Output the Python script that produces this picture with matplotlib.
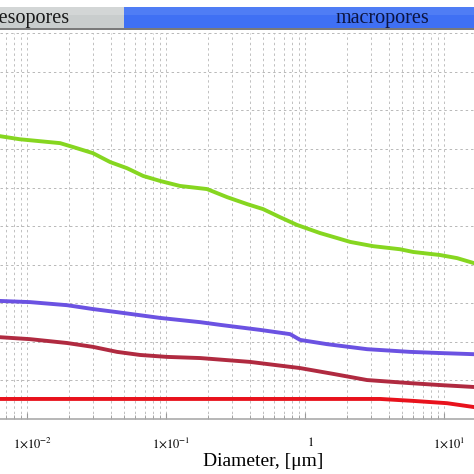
import numpy as np
import matplotlib
matplotlib.use("Agg")
import matplotlib.pyplot as plt
import matplotlib.transforms as mtransforms
from matplotlib.patches import Rectangle
from matplotlib.ticker import LogLocator, NullFormatter, FixedLocator

# data (diameter in um, y in axis units 0..10)
d_green = [0.0064, 0.0089, 0.0173, 0.0214, 0.0298, 0.0396, 0.0524, 0.0684, 0.0906, 0.126,
           0.197, 0.275, 0.383, 0.499, 0.661, 0.875, 1.28, 1.70, 2.11, 3.08, 4.82, 5.98,
           9.35, 12.4, 16.4]
y_green = [7.33, 7.25, 7.15, 7.05, 6.89, 6.66, 6.50, 6.30, 6.17, 6.04,
           5.96, 5.75, 5.57, 5.44, 5.23, 5.03, 4.82, 4.69, 4.59, 4.48, 4.40, 4.33,
           4.25, 4.17, 4.04]

d_blue = [0.0064, 0.0105, 0.0194, 0.0298, 0.0444, 0.065, 0.0906, 0.176, 0.245, 0.474,
          0.780, 0.921, 1.44, 2.79, 5.69, 9.35, 16.4]
y_blue = [3.06, 3.03, 2.95, 2.85, 2.77, 2.69, 2.62, 2.51, 2.44, 2.31,
          2.20, 2.05, 1.94, 1.81, 1.74, 1.71, 1.68]

d_dred = [0.0064, 0.0105, 0.0194, 0.0298, 0.0444, 0.065, 0.1016, 0.176, 0.402, 0.921,
          1.59, 2.79, 5.69, 9.35, 16.4]
y_dred = [2.12, 2.07, 1.97, 1.87, 1.74, 1.66, 1.61, 1.58, 1.48, 1.32,
          1.17, 1.01, 0.93, 0.88, 0.83]

d_red = [0.0064, 0.921, 3.47, 5.98, 10.5, 16.4]
y_red = [0.52, 0.52, 0.52, 0.47, 0.41, 0.31]

xticks = [1e-2, 1e-1, 1, 1e1]
xticklabels = [r'$1{\times}10^{-2}$', r'$1{\times}10^{-1}$', r'$1$', r'$1{\times}10^{1}$']

# pore classes: (name, start, end, text position)
bands = [("mesopores", 0.002, 0.05, 0.01),
         ("macropores", 0.05, 300, 3.6)]

plt.rcParams['mathtext.fontset'] = 'stix'
plt.rcParams['font.family'] = ['Liberation Serif', 'DejaVu Serif']

fig = plt.figure(figsize=(4.74, 4.74), dpi=100)
ax = fig.add_axes([0.0, 0.116, 1.0, 0.814])

lw = 2.8
ax.plot(d_green, y_green, color='#86d620', lw=lw, solid_joinstyle='round')
ax.plot(d_blue, y_blue, color='#6b52e2', lw=lw, solid_joinstyle='round')
ax.plot(d_dred, y_dred, color='#b02a40', lw=lw, solid_joinstyle='round')
ax.plot(d_red, y_red, color='#e8121c', lw=lw, solid_joinstyle='round')

ax.set_xscale('log')
ax.set_xlim(0.00639, 16.4)
ax.set_ylim(0, 10)

ax.xaxis.set_major_locator(FixedLocator(xticks))
ax.set_xticklabels(xticklabels, fontsize=9)
ax.xaxis.set_minor_locator(LogLocator(base=10, subs=np.arange(2, 10)))
ax.xaxis.set_minor_formatter(NullFormatter())
ax.set_yticks(np.arange(0, 11, 1))
ax.tick_params(axis='y', left=False, labelleft=False)
ax.tick_params(axis='x', which='both', direction='in', color='#999999', pad=12)
ax.tick_params(axis='x', which='major', length=4)
ax.tick_params(axis='x', which='minor', length=3)

offset = mtransforms.ScaledTranslation(4 / 72, 0, fig.dpi_scale_trans)
for lab in ax.get_xticklabels():
    lab.set_transform(lab.get_transform() + offset)

ax.grid(True, which='both', axis='x', color='#c0c0c0', lw=0.7, linestyle=(0, (2.5, 3)))
ax.grid(True, which='major', axis='y', color='#b8b8b8', lw=0.7, linestyle=(0, (2.5, 3)))

for s in ['top', 'left', 'right']:
    ax.spines[s].set_visible(False)
ax.spines['bottom'].set_color('#aaaaaa')
ax.spines['bottom'].set_linewidth(1.2)

ax.set_xlabel('Diameter, [μm]', fontsize=14)
ax.xaxis.set_label_coords(0.555, -0.109)
ax.xaxis.label.set_va('center')

# pore class band above the plot
trans = mtransforms.blended_transform_factory(ax.transData, fig.transFigure)
band_colors = ['#c9cdcd', '#3f70f4']
top_colors = ['#dadddd', '#5a86f6']
text_colors = ['#1a1a1a', '#0c1440']
for (name, x0, x1, xt), fc, tcol, tc in zip(bands, band_colors, top_colors, text_colors):
    ax.add_patch(Rectangle((x0, 0.937), x1 - x0, 0.048, transform=trans,
                           facecolor=fc, edgecolor='none', clip_on=False))
    ax.add_patch(Rectangle((x0, 0.968), x1 - x0, 0.017, transform=trans,
                           facecolor=tcol, edgecolor='none', clip_on=False, alpha=0.6))
    ax.add_patch(Rectangle((x0, 0.937), x1 - x0, 0.004, transform=trans,
                           facecolor='#7a7a7a', edgecolor='none', clip_on=False))
    ax.text(xt, 0.961, name, transform=trans, ha='center', va='center',
            fontsize=14.5, color=tc, clip_on=False)

fig.savefig('out.png', dpi=100)
